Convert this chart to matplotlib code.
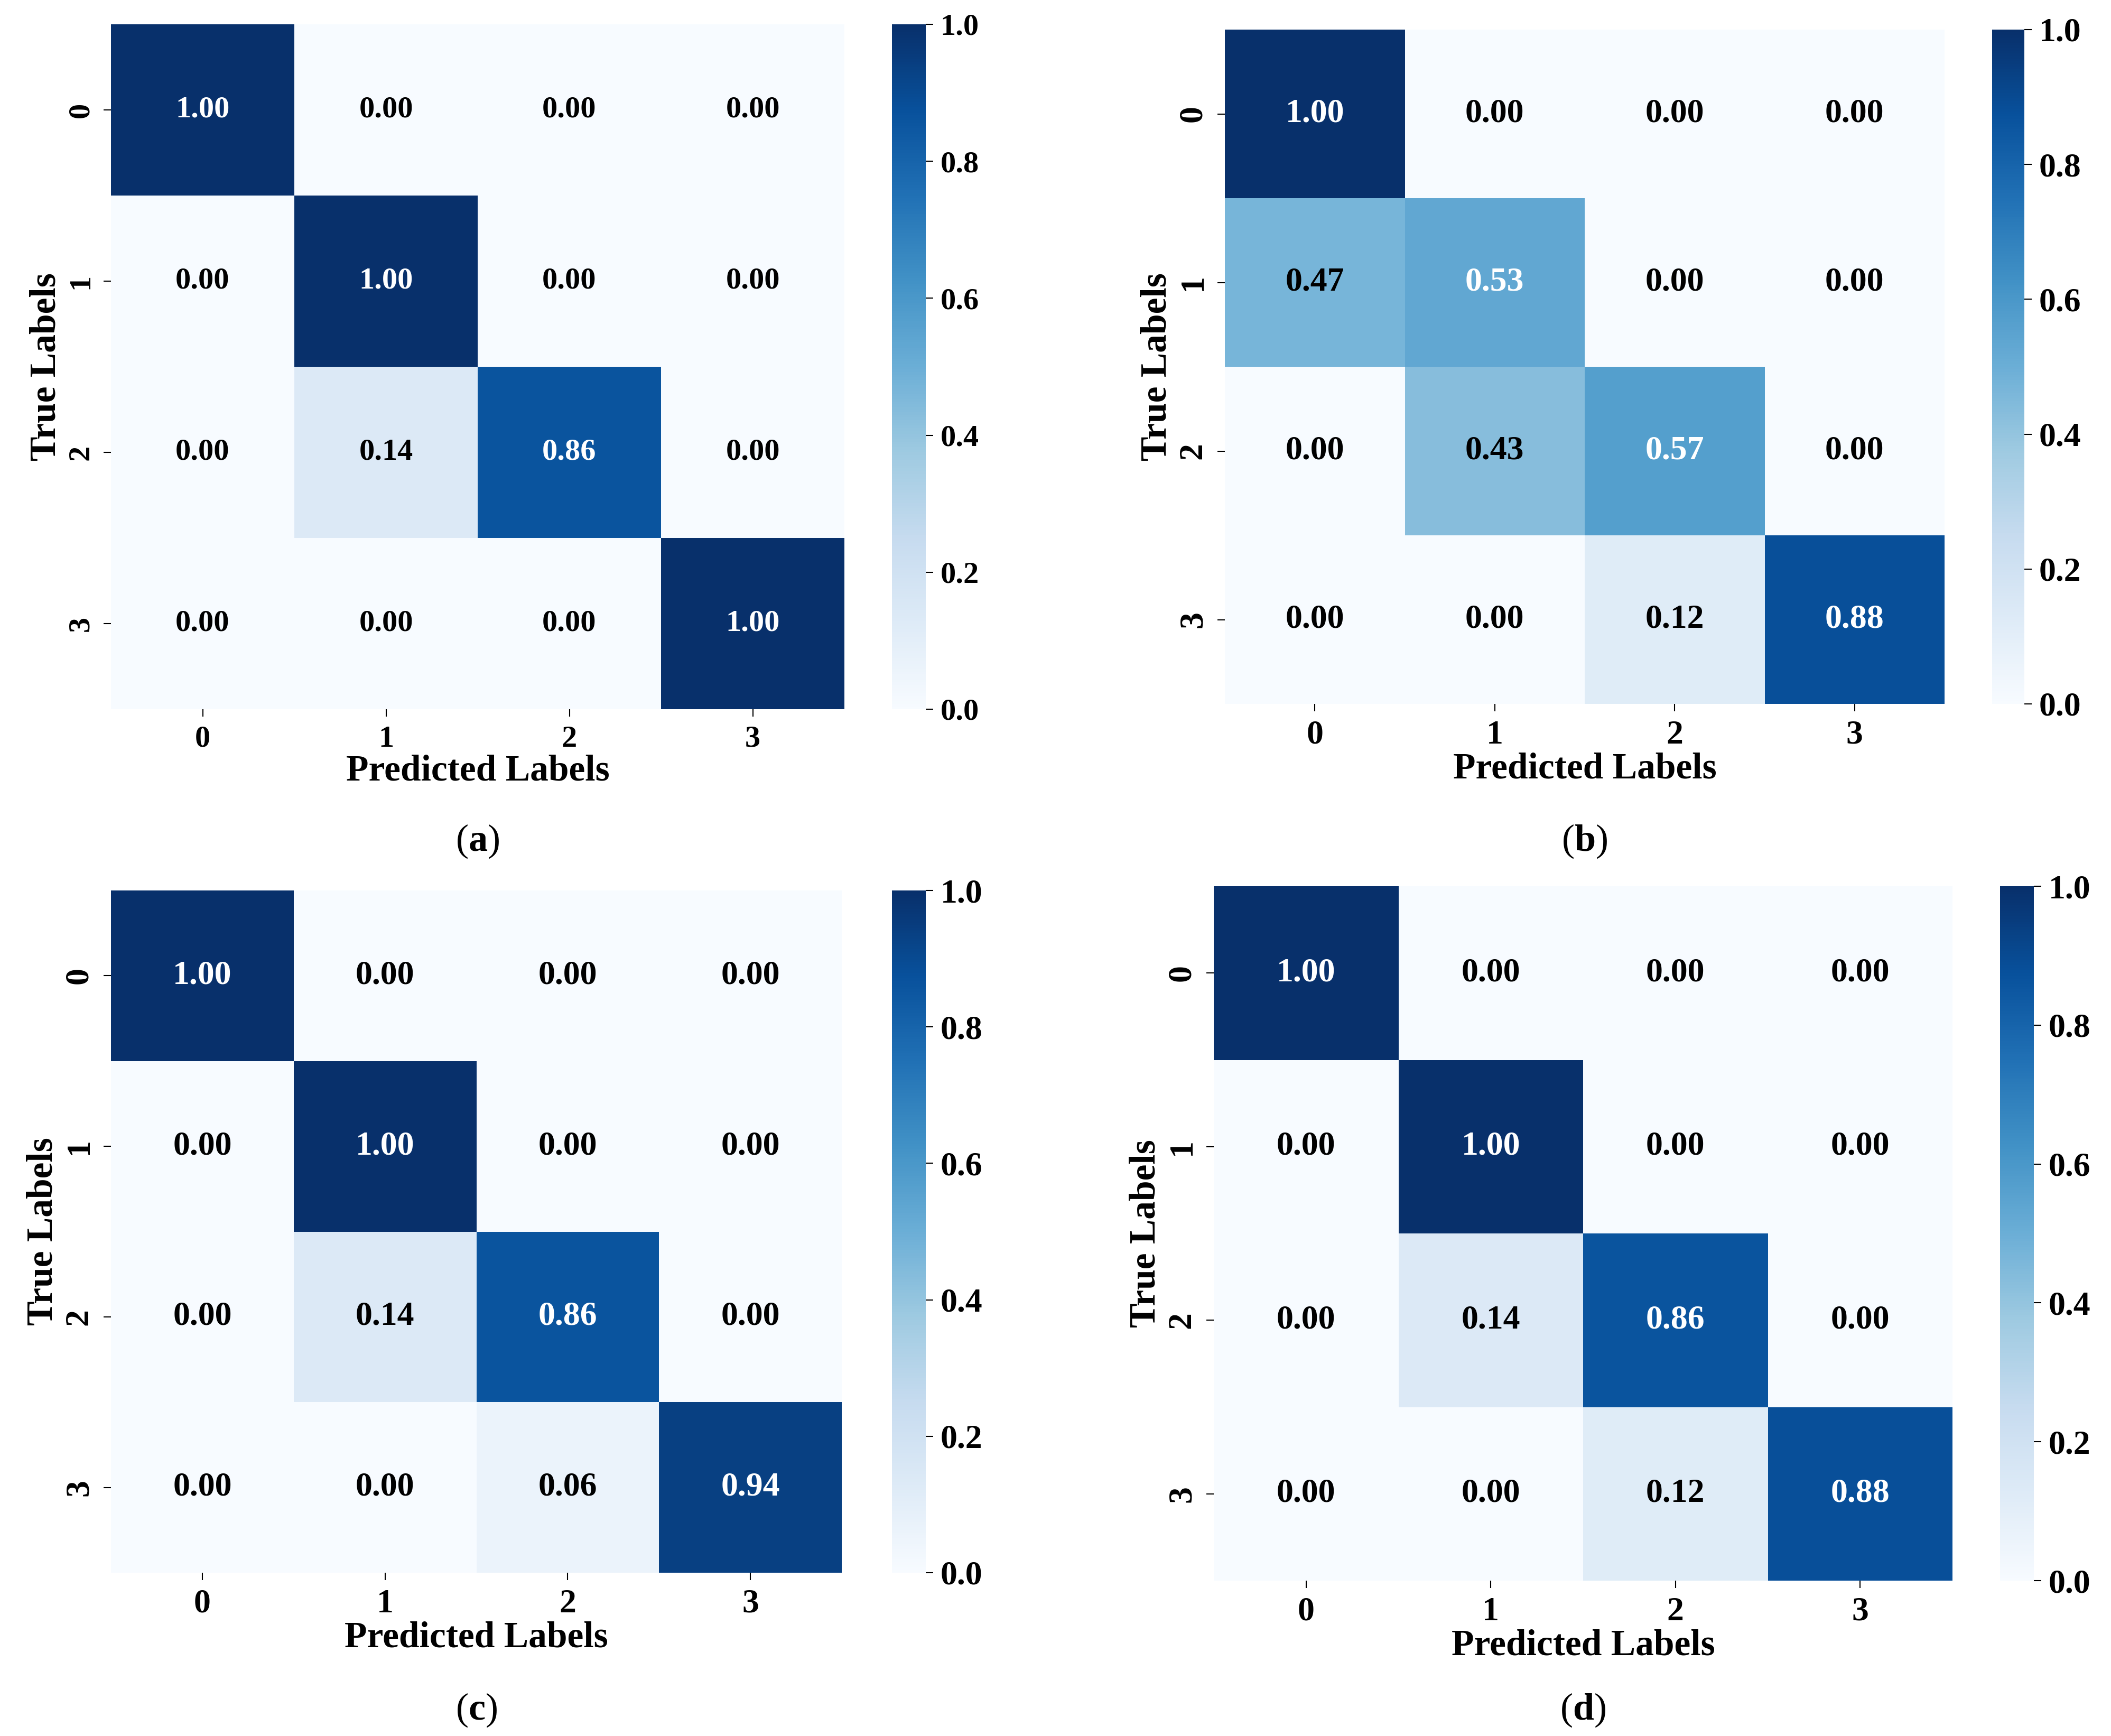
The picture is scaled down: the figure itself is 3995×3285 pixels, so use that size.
import numpy as np
import matplotlib
matplotlib.use('Agg')
import matplotlib.pyplot as plt
from matplotlib import colors

plt.rcParams['font.family'] = ['Liberation Serif', 'DejaVu Serif']
plt.rcParams['mathtext.fontset'] = 'custom'
plt.rcParams['mathtext.rm'] = 'Liberation Serif'
plt.rcParams['mathtext.bf'] = 'Liberation Serif:bold'

# Confusion matrices (rows: true, cols: predicted)
classes = ['0', '1', '2', '3']
cm_a = [[1.00, 0.00, 0.00, 0.00],
        [0.00, 1.00, 0.00, 0.00],
        [0.00, 0.14, 0.86, 0.00],
        [0.00, 0.00, 0.00, 1.00]]
cm_b = [[1.00, 0.00, 0.00, 0.00],
        [0.47, 0.53, 0.00, 0.00],
        [0.00, 0.43, 0.57, 0.00],
        [0.00, 0.00, 0.12, 0.88]]
cm_c = [[1.00, 0.00, 0.00, 0.00],
        [0.00, 1.00, 0.00, 0.00],
        [0.00, 0.14, 0.86, 0.00],
        [0.00, 0.00, 0.06, 0.94]]
cm_d = [[1.00, 0.00, 0.00, 0.00],
        [0.00, 1.00, 0.00, 0.00],
        [0.00, 0.14, 0.86, 0.00],
        [0.00, 0.00, 0.12, 0.88]]
cbar_ticks = [0.0, 0.2, 0.4, 0.6, 0.8, 1.0]

W, H = 3995, 3285
fig = plt.figure(figsize=(W / 100, H / 100), dpi=100)


def px_rect(x0, y0, x1, y1):
    return [x0 / W, 1 - y1 / H, (x1 - x0) / W, (y1 - y0) / H]


cmap = plt.get_cmap('Blues')
norm = colors.Normalize(vmin=0, vmax=1)


def luminance(c):
    # same rule as seaborn's annotation colour choice
    rgb = np.array(c[:3])
    rgb = np.where(rgb <= .03928, rgb / 12.92, ((rgb + .055) / 1.055) ** 2.4)
    return rgb.dot([.2126, .7152, .0722])


def draw_cm(cm, heat_box, cbar_box, letter, letter_y, fs_ann, fs_tick, fs_lab):
    cm = np.array(cm)
    ax = fig.add_axes(px_rect(*heat_box))
    mesh = ax.pcolormesh(cm, cmap=cmap, norm=norm)
    ax.set_xlim(0, 4)
    ax.set_ylim(4, 0)
    for i in range(cm.shape[0]):
        for j in range(cm.shape[1]):
            lum = luminance(cmap(norm(cm[i, j])))
            ax.text(j + 0.5, i + 0.5, '%.2f' % cm[i, j], ha='center', va='center',
                    color='black' if lum > .408 else 'white',
                    fontsize=fs_ann, fontweight='bold')
    ax.set_xticks(np.arange(4) + 0.5)
    ax.set_yticks(np.arange(4) + 0.5)
    ax.set_xticklabels(classes, fontsize=fs_tick, fontweight='bold')
    ax.set_yticklabels(classes, fontsize=fs_tick, fontweight='bold',
                       rotation=90, va='center')
    ax.tick_params(length=10, width=1.5, pad=12)
    for s in ax.spines.values():
        s.set_visible(False)
    ax.set_xlabel('Predicted Labels', fontsize=fs_lab, fontweight='bold', labelpad=2)
    ax.set_ylabel('True Labels', fontsize=fs_lab, fontweight='bold', labelpad=6)

    cax = fig.add_axes(px_rect(*cbar_box))
    cb = fig.colorbar(mesh, cax=cax, ticks=cbar_ticks)
    cb.outline.set_visible(False)
    cax.set_yticklabels(['%.1f' % t for t in cbar_ticks],
                        fontsize=fs_tick, fontweight='bold')
    cax.tick_params(length=10, width=1.5, pad=10)

    xc = (heat_box[0] + heat_box[2]) / 2 / W
    fig.text(xc, 1 - letter_y / H, r'($\mathbf{%s}$)' % letter,
             ha='center', va='center', fontsize=fs_lab + 2)


draw_cm(cm_a, (210, 46, 1598, 1342), (1688, 46, 1752, 1342), 'a', 1592, 42, 42, 50)
draw_cm(cm_b, (2318, 56, 3680, 1332), (3770, 56, 3831, 1332), 'b', 1592, 46, 46, 50)
draw_cm(cm_c, (210, 1685, 1593, 2976), (1688, 1685, 1752, 2976), 'c', 3236, 46, 46, 50)
draw_cm(cm_d, (2297, 1677, 3695, 2991), (3785, 1677, 3849, 2991), 'd', 3236, 46, 46, 50)

fig.savefig('out.png', dpi=100, facecolor='white')
